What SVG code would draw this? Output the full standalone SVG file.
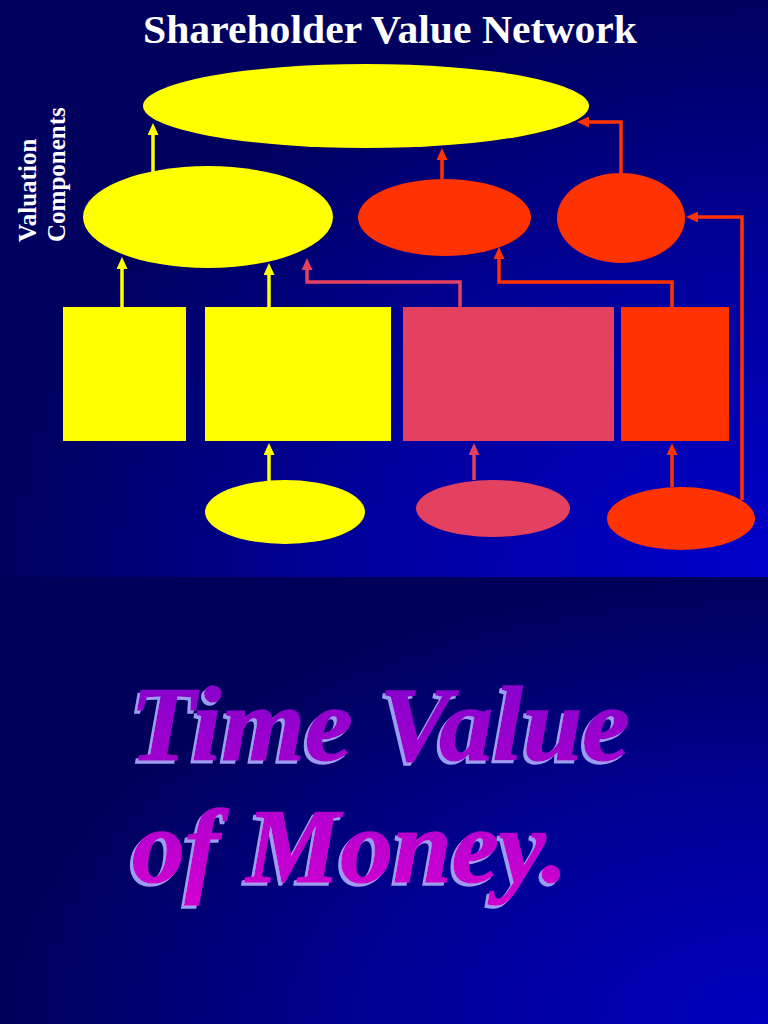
<svg xmlns="http://www.w3.org/2000/svg" width="768" height="1024" viewBox="0 0 768 1024">
  <defs>
    <radialGradient id="bgTop" cx="1" cy="1" r="1" fx="1" fy="1">
      <stop offset="0" stop-color="#0000CC"/>
      <stop offset="0.55" stop-color="#00009A"/>
      <stop offset="1" stop-color="#00005E"/>
    </radialGradient>
    <radialGradient id="bgBot" cx="1" cy="1" r="1" fx="1" fy="1">
      <stop offset="0" stop-color="#0000BE"/>
      <stop offset="0.55" stop-color="#000090"/>
      <stop offset="1" stop-color="#00005A"/>
    </radialGradient>
    <linearGradient id="txtFill" gradientUnits="userSpaceOnUse" x1="0" y1="690" x2="0" y2="900">
      <stop offset="0" stop-color="#8A00CC"/>
      <stop offset="1" stop-color="#D000D0"/>
    </linearGradient>
    <filter id="shadow" x="-10%" y="-20%" width="120%" height="140%">
      <feFlood flood-color="#9C9CF2" result="c"/>
      <feComposite in="c" in2="SourceAlpha" operator="in" result="s"/>
      <feOffset in="s" dx="-3" dy="3" result="o"/>
      <feMerge>
        <feMergeNode in="o"/>
        <feMergeNode in="SourceGraphic"/>
      </feMerge>
    </filter>
    <marker id="ahY" viewBox="0 0 12 11" markerWidth="12" markerHeight="11" refX="1" refY="5.5" orient="auto" markerUnits="userSpaceOnUse">
      <path d="M0,0 L12,5.5 L0,11 z" fill="#FFFF00"/>
    </marker>
    <marker id="ahR" viewBox="0 0 12 11" markerWidth="12" markerHeight="11" refX="1" refY="5.5" orient="auto" markerUnits="userSpaceOnUse">
      <path d="M0,0 L12,5.5 L0,11 z" fill="#FF3300"/>
    </marker>
    <marker id="ahP" viewBox="0 0 12 11" markerWidth="12" markerHeight="11" refX="1" refY="5.5" orient="auto" markerUnits="userSpaceOnUse">
      <path d="M0,0 L12,5.5 L0,11 z" fill="#E4405F"/>
    </marker>
  </defs>
  <style>
    .y { fill: #FFFF00; }
    .r { fill: #FF3300; }
    .p { fill: #E4405F; }
    .cy { fill: none; stroke: #FFFF00; stroke-width: 3.5; marker-end: url(#ahY); }
    .cr { fill: none; stroke: #FF3300; stroke-width: 3.5; marker-end: url(#ahR); }
    .cp { fill: none; stroke: #E4405F; stroke-width: 3.5; marker-end: url(#ahP); }
    .title { font-family: "Liberation Serif", "Times New Roman", serif; font-weight: bold; fill: #FFFFFF; }
    .big { font-family: "Liberation Serif", "Times New Roman", serif; font-weight: bold; font-style: italic; font-size: 106px; fill: url(#txtFill); stroke: url(#txtFill); stroke-width: 1.5; filter: url(#shadow); }
  </style>

  <!-- backgrounds -->
  <rect x="0" y="0" width="768" height="577" fill="url(#bgTop)"/>
  <rect x="0" y="577" width="768" height="447" fill="url(#bgBot)"/>

  <text class="title" x="390" y="43" font-size="40" text-anchor="middle" textLength="494" lengthAdjust="spacingAndGlyphs">Shareholder Value Network</text>
  <text class="title" font-size="25" transform="translate(36,242) rotate(-90)">Valuation</text>
  <text class="title" font-size="25" transform="translate(65,242) rotate(-90)">Components</text>

  <!-- connectors -->
  <g id="connectors">
    <path class="cy" d="M153,172 V134"/>
    <path class="cy" d="M122,307 V268"/>
    <path class="cy" d="M269,307 V274"/>
    <path class="cy" d="M269,481 V454"/>
    <path class="cr" d="M442,179 V159"/>
    <path class="cr" d="M621,173 V122 H588"/>
    <path class="cp" d="M460,307 V282 H307 V269"/>
    <path class="cr" d="M672,307 V282 H499 V258"/>
    <path class="cr" d="M742,500 V217 H697"/>
    <path class="cp" d="M474,480 V454"/>
    <path class="cr" d="M672,487 V454"/>
  </g>

  <!-- nodes -->
  <g id="n-top"><ellipse class="y" cx="366" cy="106" rx="223" ry="42"/></g>
  <g id="n-mid-left"><ellipse class="y" cx="208" cy="217" rx="125" ry="51"/></g>
  <g id="n-mid-center"><ellipse class="r" cx="444.5" cy="217.5" rx="86.5" ry="38.5"/></g>
  <g id="n-mid-right"><ellipse class="r" cx="621" cy="218" rx="64" ry="45"/></g>
  <g id="n-box1"><rect class="y" x="63" y="307" width="123" height="134"/></g>
  <g id="n-box2"><rect class="y" x="205" y="307" width="186" height="134"/></g>
  <g id="n-box3"><rect class="p" x="403" y="307" width="211" height="134"/></g>
  <g id="n-box4"><rect class="r" x="621" y="307" width="108" height="134"/></g>
  <g id="n-bot1"><ellipse class="y" cx="285" cy="512" rx="80" ry="32"/></g>
  <g id="n-bot2"><ellipse class="p" cx="493" cy="508.5" rx="77" ry="28.5"/></g>
  <g id="n-bot3"><ellipse class="r" cx="681" cy="518.5" rx="74" ry="31.5"/></g>

  <!-- second slide title -->
  <g id="slide2-title">
    <text class="big" x="130" y="760" textLength="500" lengthAdjust="spacingAndGlyphs">Time Value</text>
    <text class="big" x="132" y="882" textLength="436" lengthAdjust="spacingAndGlyphs">of Money.</text>
  </g>
</svg>
